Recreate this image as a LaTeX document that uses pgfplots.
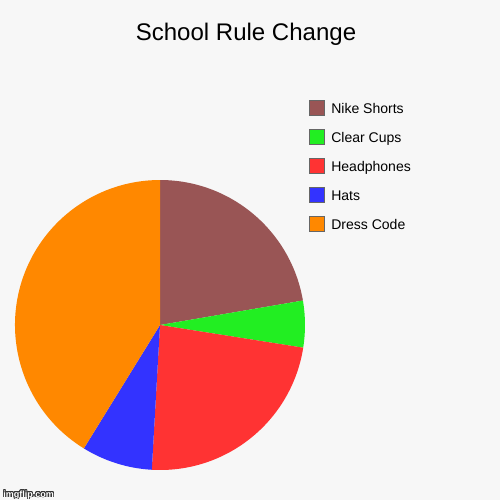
\documentclass[border=0pt]{standalone}
\usepackage{pgfplots}
\usepackage{pgfplotstable}
\pgfplotsset{compat=1.18}
\usepackage{fontspec}
\setmainfont{Liberation Sans}
\usepackage{contour}
\contourlength{0.5pt}

\definecolor{bg}{HTML}{F7F7F7}
\definecolor{nike}{HTML}{995555}
\definecolor{cups}{HTML}{22EE22}
\definecolor{head}{HTML}{FF3333}
\definecolor{hats}{HTML}{3333FF}
\definecolor{dress}{HTML}{FF8800}
\definecolor{edge}{HTML}{666666}

% share of each slice, in percent, clockwise from 12 o'clock
\pgfplotstableread[col sep=comma]{
label,value
Nike Shorts,22.3
Clear Cups,5.2
Headphones,23.4
Hats,7.9
Dress Code,41.2
}\piedata

% cumulative angles
\pgfmathsetmacro\aO{90}
\pgfplotstablegetelem{0}{value}\of\piedata \pgfmathsetmacro\aI{\aO-3.6*\pgfplotsretval}
\pgfplotstablegetelem{1}{value}\of\piedata \pgfmathsetmacro\aII{\aI-3.6*\pgfplotsretval}
\pgfplotstablegetelem{2}{value}\of\piedata \pgfmathsetmacro\aIII{\aII-3.6*\pgfplotsretval}
\pgfplotstablegetelem{3}{value}\of\piedata \pgfmathsetmacro\aIV{\aIII-3.6*\pgfplotsretval}
\pgfplotstablegetelem{4}{value}\of\piedata \pgfmathsetmacro\aV{\aIV-3.6*\pgfplotsretval}
\pgfmathsetlengthmacro\R{145*0.72pt}
\newcommand\slice[3]{\fill[#3] (axis cs:160,325) -- ++(#1:\R) arc[start angle=#1, end angle=#2, radius=\R] -- cycle;}
\newcommand\key[3]{%
  \filldraw[fill=#2, draw=edge, line width=0.9pt] (axis cs:309.5,#1-7.5) rectangle (axis cs:324.5,#1+7.5);
  \node[anchor=base west, inner sep=0pt, font=\fontsize{10.1pt}{12pt}\selectfont] at (axis cs:331,#1+5.5) {#3};}

\begin{document}
\begin{tikzpicture}
\begin{axis}[
  scale only axis, width=360pt, height=360pt,
  xmin=0, xmax=500, ymin=0, ymax=500, y dir=reverse,
  hide axis, clip=false]
  \fill[bg] (axis cs:0,0) rectangle (axis cs:500,500);
  \coordinate (ll) at (axis cs:0,500);
  \coordinate (ur) at (axis cs:500,0);
  \node[anchor=base, inner sep=0pt, font=\fontsize{17.3pt}{20pt}\selectfont] at (axis cs:246,40) {School Rule Change};
  \slice{\aO}{\aI}{nike}
  \slice{\aI}{\aII}{cups}
  \slice{\aII}{\aIII}{head}
  \slice{\aIII}{\aIV}{hats}
  \slice{\aIV}{\aV}{dress}
  \key{108}{nike}{Nike Shorts}
  \key{137}{cups}{Clear Cups}
  \key{166}{head}{Headphones}
  \key{195}{hats}{Hats}
  \key{224}{dress}{Dress Code}
  \node[anchor=base west, inner sep=0pt, font=\bfseries\fontsize{6.5pt}{8pt}\selectfont] at (axis cs:3,497) {\contour{black!80}{\textcolor{white}{imgflip.com}}};
\end{axis}
\pgfresetboundingbox
\path[use as bounding box] (ll) rectangle (ur);
\end{tikzpicture}
\end{document}
